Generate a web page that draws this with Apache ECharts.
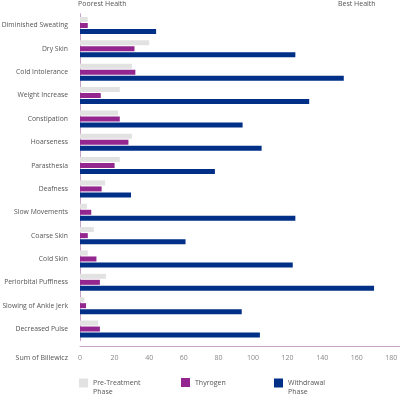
<!DOCTYPE html>
<html>
<head>
<meta charset="utf-8">
<script src="https://cdn.jsdelivr.net/npm/echarts@6/dist/echarts.min.js"></script>
<style>
html, body { margin: 0; padding: 0; background: #fff; }
#chart_1 { width: 400px; height: 409px; }
</style>
</head>
<body>
<div id="chart_1"></div>
<script>
var categories = ['Diminished Sweating', 'Dry Skin', 'Cold Intolerance', 'Weight Increase', 'Constipation',
    'Hoarseness', 'Parasthesia', 'Deafness', 'Slow Movements', 'Coarse Skin', 'Cold Skin',
    'Periorbital Puffiness', 'Slowing of Ankle Jerk', 'Decreased Pulse'];
var seriesNames = ['Pre-Treatment\nPhase', 'Thyrogen', 'Withdrawal\nPhase'];
var preTreatment = [4.5, 40, 30, 23, 22, 30, 23, 14.5, 4, 8, 4.5, 15, 2.5, 10.5];
var thyrogen = [4.5, 31.5, 32, 12, 23, 28, 20, 12.5, 6.5, 4.5, 9.5, 11.5, 3.5, 11.5];
var withdrawal = [44, 124.5, 152.5, 132.5, 94, 105, 78, 29.5, 124.5, 61, 123, 170, 93.5, 104];
var xTicks = [0, 20, 40, 60, 80, 100, 120, 140, 160, 180];

var colors = ['#e2e2e2', '#93278f', '#002f87'];
var font = '"Open Sans", sans-serif';

var myChart = echarts.init(document.getElementById('chart_1'));

function legendAt(i, left) {
    var twoLines = seriesNames[i].indexOf('\n') >= 0;
    return {
        data: [seriesNames[i]],
        left: left,
        // text block is centred on the icon, a blank first line pushes the name down
        top: twoLines ? 369.5 : 378,
        padding: 0,
        itemWidth: 9,
        itemHeight: 9,
        itemGap: 0,
        icon: 'rect',
        selectedMode: false,
        formatter: function (name) {
            return name.indexOf('\n') >= 0 ? ' \n' + name : name;
        },
        textStyle: {
            fontFamily: font,
            fontSize: 7,
            color: '#555',
            lineHeight: 9
        }
    };
}

var option = {
    animation: false,
    backgroundColor: '#fff',
    title: [
        {text: 'Poorest Health', left: 78, top: 0, padding: 0,
            textStyle: {fontFamily: font, fontSize: 7, fontWeight: 'normal', color: '#555'}},
        {text: 'Best Health', left: 338, top: 0, padding: 0,
            textStyle: {fontFamily: font, fontSize: 7, fontWeight: 'normal', color: '#555'}}
    ],
    legend: [legendAt(0, 79), legendAt(1, 181), legendAt(2, 274)],
    grid: {left: 80, right: 0, top: 13.8, bottom: 68.3, containLabel: false, outerBoundsMode: 'none'},
    xAxis: {
        type: 'value',
        min: 0,
        max: 185,
        interval: 20,
        offset: 6,
        name: 'Sum of Billewicz',
        nameLocation: 'start',
        nameGap: 12,
        nameTextStyle: {fontFamily: font, fontSize: 7, color: '#555', align: 'right', verticalAlign: 'top', padding: [8, 0, 0, 0]},
        axisLine: {show: true, lineStyle: {color: '#c9a3c7', width: 1}},
        axisTick: {show: false},
        splitLine: {show: false},
        axisLabel: {
            fontFamily: font, fontSize: 7, color: '#888', margin: 8,
            formatter: function (v) { return xTicks.indexOf(v) >= 0 ? v : ''; }
        }
    },
    yAxis: {
        type: 'category',
        inverse: true,
        data: categories,
        axisLine: {show: true, lineStyle: {color: '#c9a3c7', width: 1}},
        axisTick: {show: false},
        axisLabel: {fontFamily: font, fontSize: 6.8, color: '#555', margin: 12}
    },
    series: [
        {name: seriesNames[0], type: 'bar', data: preTreatment, barWidth: 5, barGap: '20%', itemStyle: {color: colors[0]}},
        {name: seriesNames[1], type: 'bar', data: thyrogen, barWidth: 5, barGap: '20%', itemStyle: {color: colors[1]}},
        {name: seriesNames[2], type: 'bar', data: withdrawal, barWidth: 5, barGap: '20%', itemStyle: {color: colors[2]}}
    ]
};

myChart.setOption(option);
</script>
</body>
</html>
